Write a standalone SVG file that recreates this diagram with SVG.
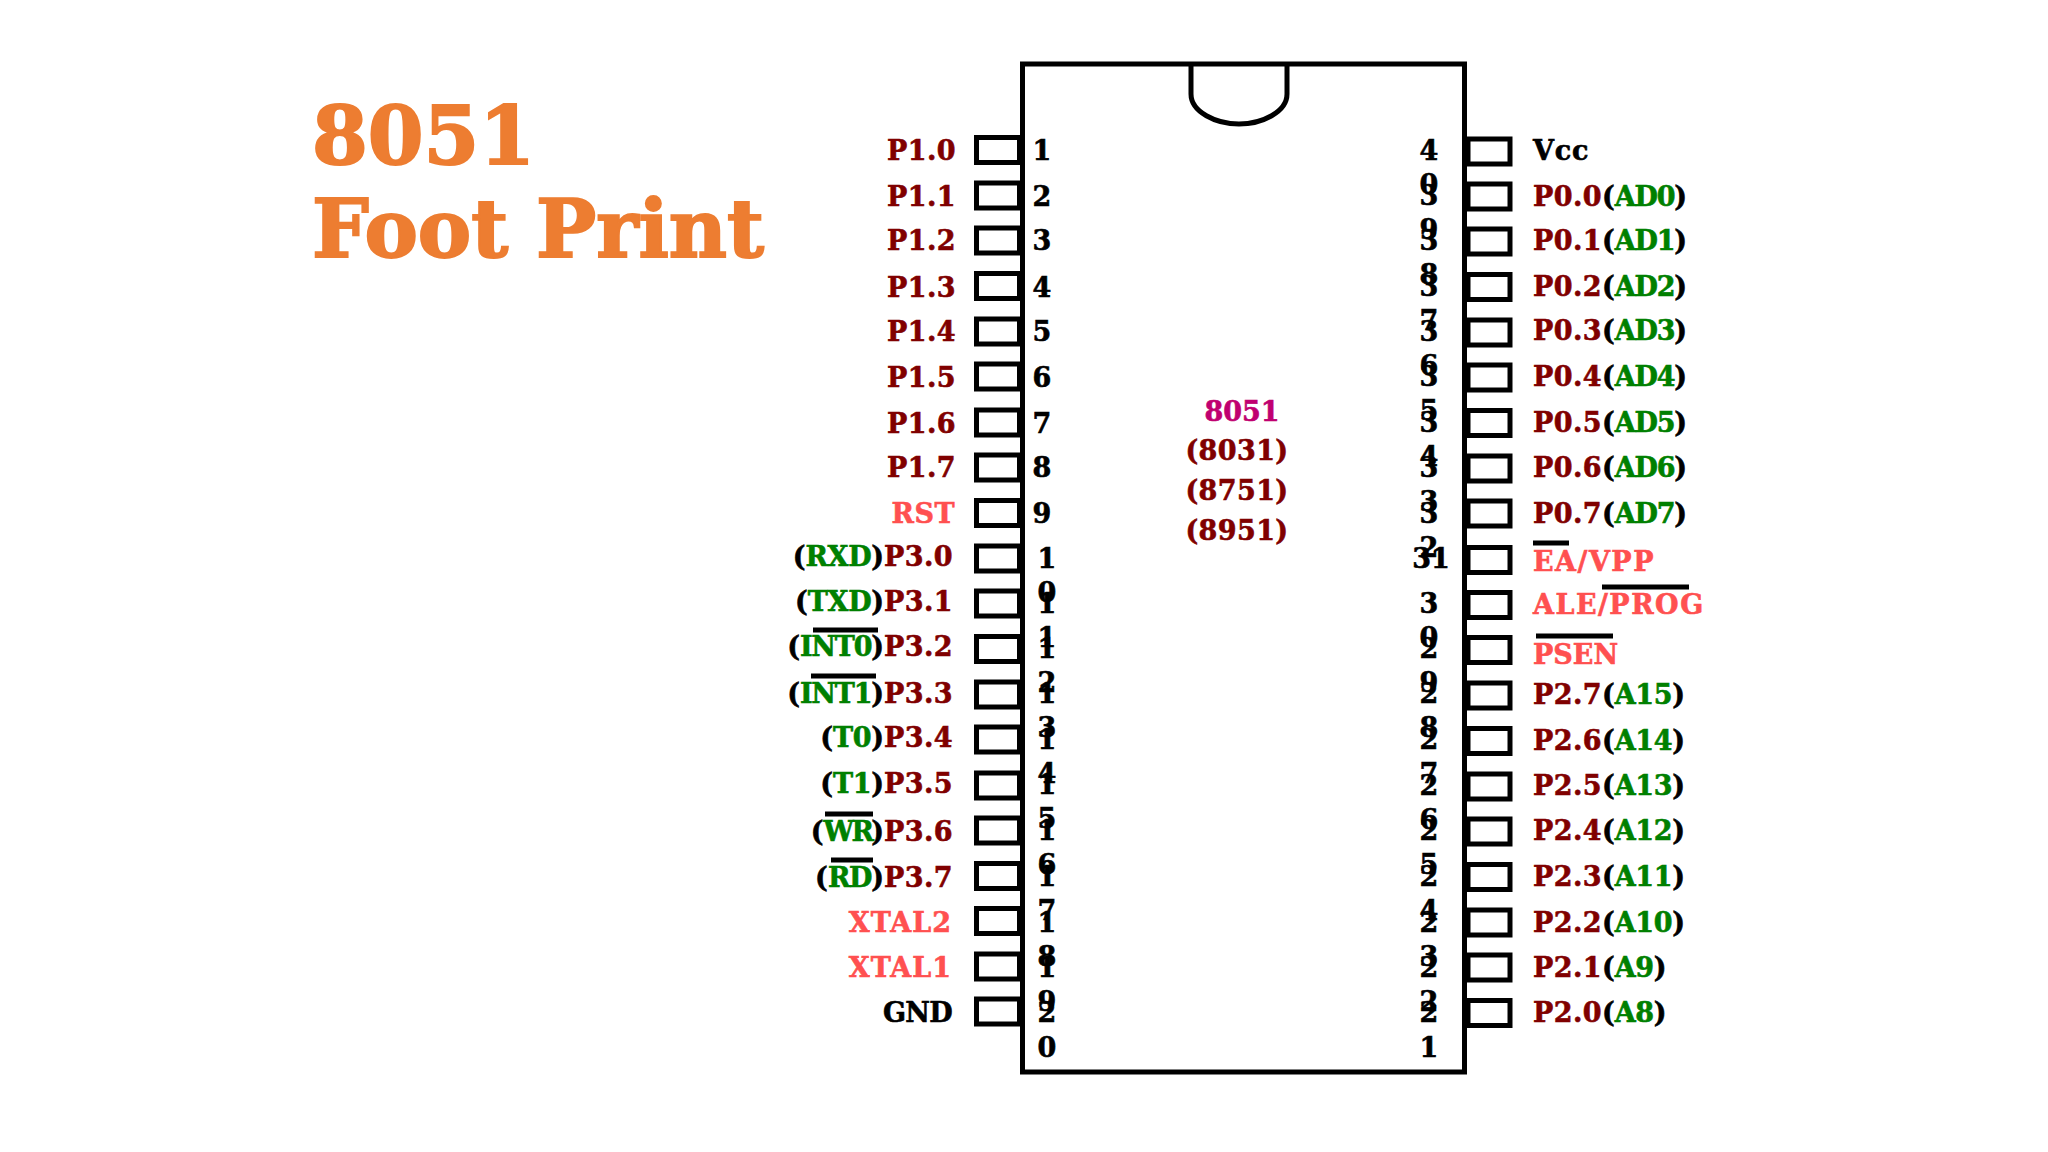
<svg xmlns="http://www.w3.org/2000/svg" width="2048" height="1152" viewBox="0 0 2048 1152">
<style>
text{font-family:"DejaVu Serif","Liberation Serif",serif;font-weight:700;font-size:27px;stroke-width:.6px}
.pin{fill:#fff;stroke:#000;stroke-width:5}
.body{fill:none;stroke:#000;stroke-width:5;stroke-linecap:square}
.ov{stroke:#000;stroke-width:5}
.r{fill:#800000;stroke:#800000;letter-spacing:.4px}.g{fill:#008000;stroke:#008000;letter-spacing:-.3px}.n{fill:#008000;stroke:#008000;letter-spacing:-1.2px}.s{fill:#ff5050;stroke:#ff5050}.k{fill:#000;stroke:#000}
.e{text-anchor:end}.m{text-anchor:middle}
.t{fill:#ed7d31;stroke:#ed7d31;stroke-width:2px;font-size:80px;letter-spacing:0}
</style>
<rect width="2048" height="1152" fill="#fff"/>
<g id="title">
<text class="t" x="312" y="164" textLength="223" lengthAdjust="spacingAndGlyphs">8051</text>
<text class="t" x="312" y="257" textLength="452" lengthAdjust="spacingAndGlyphs">Foot Print</text>
</g>
<g id="pins-left">
<rect class="pin" x="976.5" y="137.5" width="43" height="25"/><rect class="pin" x="976.5" y="183" width="43" height="25"/><rect class="pin" x="976.5" y="228" width="43" height="25"/><rect class="pin" x="976.5" y="273.5" width="43" height="25"/><rect class="pin" x="976.5" y="319" width="43" height="25"/><rect class="pin" x="976.5" y="364" width="43" height="25"/><rect class="pin" x="976.5" y="410" width="43" height="25"/><rect class="pin" x="976.5" y="455" width="43" height="25"/><rect class="pin" x="976.5" y="500.5" width="43" height="25"/><rect class="pin" x="976.5" y="546" width="43" height="25"/><rect class="pin" x="976.5" y="591" width="43" height="25"/><rect class="pin" x="976.5" y="636.5" width="43" height="25"/><rect class="pin" x="976.5" y="682" width="43" height="25"/><rect class="pin" x="976.5" y="727" width="43" height="25"/><rect class="pin" x="976.5" y="773" width="43" height="25"/><rect class="pin" x="976.5" y="818" width="43" height="25"/><rect class="pin" x="976.5" y="863.5" width="43" height="25"/><rect class="pin" x="976.5" y="908.5" width="43" height="25"/><rect class="pin" x="976.5" y="954" width="43" height="25"/><rect class="pin" x="976.5" y="999" width="43" height="25"/>
</g>
<g id="pins-right">
<rect class="pin" x="1468" y="139" width="42" height="25"/><rect class="pin" x="1468" y="184" width="42" height="25"/><rect class="pin" x="1468" y="229" width="42" height="25"/><rect class="pin" x="1468" y="274.5" width="42" height="25"/><rect class="pin" x="1468" y="320" width="42" height="25"/><rect class="pin" x="1468" y="365" width="42" height="25"/><rect class="pin" x="1468" y="410.5" width="42" height="25"/><rect class="pin" x="1468" y="456" width="42" height="25"/><rect class="pin" x="1468" y="501" width="42" height="25"/><rect class="pin" x="1468" y="547.5" width="42" height="25"/><rect class="pin" x="1468" y="592.5" width="42" height="25"/><rect class="pin" x="1468" y="637.5" width="42" height="25"/><rect class="pin" x="1468" y="683" width="42" height="25"/><rect class="pin" x="1468" y="728.5" width="42" height="25"/><rect class="pin" x="1468" y="774" width="42" height="25"/><rect class="pin" x="1468" y="819" width="42" height="25"/><rect class="pin" x="1468" y="864.5" width="42" height="25"/><rect class="pin" x="1468" y="910" width="42" height="25"/><rect class="pin" x="1468" y="955" width="42" height="25"/><rect class="pin" x="1468" y="1000.5" width="42" height="25"/>
</g>
<g id="chip">
<path class="body" d="M1022.5 64H1464.5V1072H1022.5Z"/>
<path fill="none" stroke="#000" stroke-width="5" d="M1191 64V94C1191 112 1216 124 1239 124C1262 124 1287 112 1287 94V64"/>
</g>
<g id="labels-left">
<text class="r e" x="956" y="160">P1.0</text><text class="r e" x="956" y="206">P1.1</text><text class="r e" x="956" y="250">P1.2</text><text class="r e" x="956" y="297">P1.3</text><text class="r e" x="956" y="341">P1.4</text><text class="r e" x="956" y="387">P1.5</text><text class="r e" x="956" y="433">P1.6</text><text class="r e" x="956" y="477">P1.7</text><text class="s e" x="955" y="523" style="letter-spacing:.5px">RST</text>
<text class="k e" x="953" y="566">(<tspan class="g">RXD</tspan>)<tspan class="r">P3.0</tspan></text>
<text class="k e" x="953" y="611">(<tspan class="g">TXD</tspan>)<tspan class="r">P3.1</tspan></text>
<text class="k e" x="953" y="656">(<tspan class="n">INT0</tspan>)<tspan class="r">P3.2</tspan></text>
<text class="k e" x="953" y="703">(<tspan class="n">INT1</tspan>)<tspan class="r">P3.3</tspan></text>
<text class="k e" x="953" y="747">(<tspan class="g">T0</tspan>)<tspan class="r">P3.4</tspan></text>
<text class="k e" x="953" y="793">(<tspan class="g">T1</tspan>)<tspan class="r">P3.5</tspan></text>
<text class="k e" x="953" y="841">(<tspan class="n" style="letter-spacing:-2.5px">WR</tspan>)<tspan class="r">P3.6</tspan></text>
<text class="k e" x="953" y="887">(<tspan class="n">RD</tspan>)<tspan class="r">P3.7</tspan></text>
<text class="s e" x="952" y="932" style="letter-spacing:1px">XTAL2</text><text class="s e" x="952" y="977" style="letter-spacing:1px">XTAL1</text><text class="k e" x="952" y="1022" style="letter-spacing:-.7px">GND</text>
<line class="ov" x1="813" y1="630" x2="878" y2="630"/><line class="ov" x1="811" y1="676" x2="876" y2="676"/><line class="ov" x1="825" y1="814" x2="873" y2="814"/><line class="ov" x1="831" y1="860" x2="873" y2="860"/>
</g>
<g id="labels-right">
<text class="k" x="1533" y="160" style="letter-spacing:.8px">Vcc</text>
<text class="k" x="1533" y="206"><tspan class="r">P0.0</tspan>(<tspan class="n">AD0</tspan>)</text>
<text class="k" x="1533" y="250"><tspan class="r">P0.1</tspan>(<tspan class="n">AD1</tspan>)</text>
<text class="k" x="1533" y="296"><tspan class="r">P0.2</tspan>(<tspan class="n">AD2</tspan>)</text>
<text class="k" x="1533" y="340"><tspan class="r">P0.3</tspan>(<tspan class="n">AD3</tspan>)</text>
<text class="k" x="1533" y="386"><tspan class="r">P0.4</tspan>(<tspan class="n">AD4</tspan>)</text>
<text class="k" x="1533" y="432"><tspan class="r">P0.5</tspan>(<tspan class="n">AD5</tspan>)</text>
<text class="k" x="1533" y="477"><tspan class="r">P0.6</tspan>(<tspan class="n">AD6</tspan>)</text>
<text class="k" x="1533" y="523"><tspan class="r">P0.7</tspan>(<tspan class="n">AD7</tspan>)</text>
<text class="s" x="1533" y="571" style="letter-spacing:1.5px">EA/VPP</text><text class="s" x="1533" y="614" style="letter-spacing:1.5px">ALE/PROG</text><text class="s" x="1533" y="664">PSEN</text>
<text class="k" x="1533" y="704"><tspan class="r">P2.7</tspan>(<tspan class="g">A15</tspan>)</text>
<text class="k" x="1533" y="750"><tspan class="r">P2.6</tspan>(<tspan class="g">A14</tspan>)</text>
<text class="k" x="1533" y="795"><tspan class="r">P2.5</tspan>(<tspan class="g">A13</tspan>)</text>
<text class="k" x="1533" y="840"><tspan class="r">P2.4</tspan>(<tspan class="g">A12</tspan>)</text>
<text class="k" x="1533" y="886"><tspan class="r">P2.3</tspan>(<tspan class="g">A11</tspan>)</text>
<text class="k" x="1533" y="932"><tspan class="r">P2.2</tspan>(<tspan class="g">A10</tspan>)</text>
<text class="k" x="1533" y="977"><tspan class="r">P2.1</tspan>(<tspan class="g">A9</tspan>)</text>
<text class="k" x="1533" y="1022"><tspan class="r">P2.0</tspan>(<tspan class="g">A8</tspan>)</text>
<line class="ov" x1="1533" y1="543" x2="1569" y2="543"/><line class="ov" x1="1602" y1="587" x2="1689" y2="587"/><line class="ov" x1="1536" y1="636" x2="1613" y2="636"/>
</g>
<g id="numbers-left">
<text class="m k" x="1042" y="160">1</text><text class="m k" x="1042" y="206">2</text><text class="m k" x="1042" y="250">3</text><text class="m k" x="1042" y="297">4</text><text class="m k" x="1042" y="341">5</text><text class="m k" x="1042" y="387">6</text><text class="m k" x="1042" y="433">7</text><text class="m k" x="1042" y="477">8</text><text class="m k" x="1042" y="523">9</text>
<text class="m k" x="1047" y="568">1</text><text class="m k" x="1047" y="602">0</text>
<text class="m k" x="1047" y="613">1</text><text class="m k" x="1047" y="647">1</text>
<text class="m k" x="1047" y="658">1</text><text class="m k" x="1047" y="692">2</text>
<text class="m k" x="1047" y="703">1</text><text class="m k" x="1047" y="737">3</text>
<text class="m k" x="1047" y="749">1</text><text class="m k" x="1047" y="783">4</text>
<text class="m k" x="1047" y="794">1</text><text class="m k" x="1047" y="828">5</text>
<text class="m k" x="1047" y="840">1</text><text class="m k" x="1047" y="874">6</text>
<text class="m k" x="1047" y="886">1</text><text class="m k" x="1047" y="920">7</text>
<text class="m k" x="1047" y="932">1</text><text class="m k" x="1047" y="966">8</text>
<text class="m k" x="1047" y="977">1</text><text class="m k" x="1047" y="1011">9</text>
<text class="m k" x="1047" y="1022">2</text><text class="m k" x="1047" y="1057">0</text>
</g>
<g id="numbers-right">
<text class="m k" x="1429" y="160">4</text><text class="m k" x="1429" y="194">0</text>
<text class="m k" x="1429" y="205">3</text><text class="m k" x="1429" y="239">9</text>
<text class="m k" x="1429" y="250">3</text><text class="m k" x="1429" y="284">8</text>
<text class="m k" x="1429" y="296">3</text><text class="m k" x="1429" y="330">7</text>
<text class="m k" x="1429" y="341">3</text><text class="m k" x="1429" y="375">6</text>
<text class="m k" x="1429" y="386">3</text><text class="m k" x="1429" y="420">5</text>
<text class="m k" x="1429" y="432">3</text><text class="m k" x="1429" y="466">4</text>
<text class="m k" x="1429" y="477">3</text><text class="m k" x="1429" y="511">3</text>
<text class="m k" x="1429" y="523">3</text><text class="m k" x="1429" y="557">2</text>
<text class="m k" x="1431" y="568">31</text>
<text class="m k" x="1429" y="613">3</text><text class="m k" x="1429" y="647">0</text>
<text class="m k" x="1429" y="658">2</text><text class="m k" x="1429" y="692">9</text>
<text class="m k" x="1429" y="703">2</text><text class="m k" x="1429" y="737">8</text>
<text class="m k" x="1429" y="749">2</text><text class="m k" x="1429" y="783">7</text>
<text class="m k" x="1429" y="795">2</text><text class="m k" x="1429" y="829">6</text>
<text class="m k" x="1429" y="840">2</text><text class="m k" x="1429" y="874">5</text>
<text class="m k" x="1429" y="886">2</text><text class="m k" x="1429" y="920">4</text>
<text class="m k" x="1429" y="932">2</text><text class="m k" x="1429" y="966">3</text>
<text class="m k" x="1429" y="977">2</text><text class="m k" x="1429" y="1011">2</text>
<text class="m k" x="1429" y="1022">2</text><text class="m k" x="1429" y="1057">1</text>
</g>
<g id="center">
<text class="m" x="1242" y="421" style="fill:#c00070;stroke:#c00070">8051</text>
<text class="m r" x="1237" y="460">(8031)</text>
<text class="m r" x="1237" y="500">(8751)</text>
<text class="m r" x="1237" y="540">(8951)</text>
</g>
</svg>
